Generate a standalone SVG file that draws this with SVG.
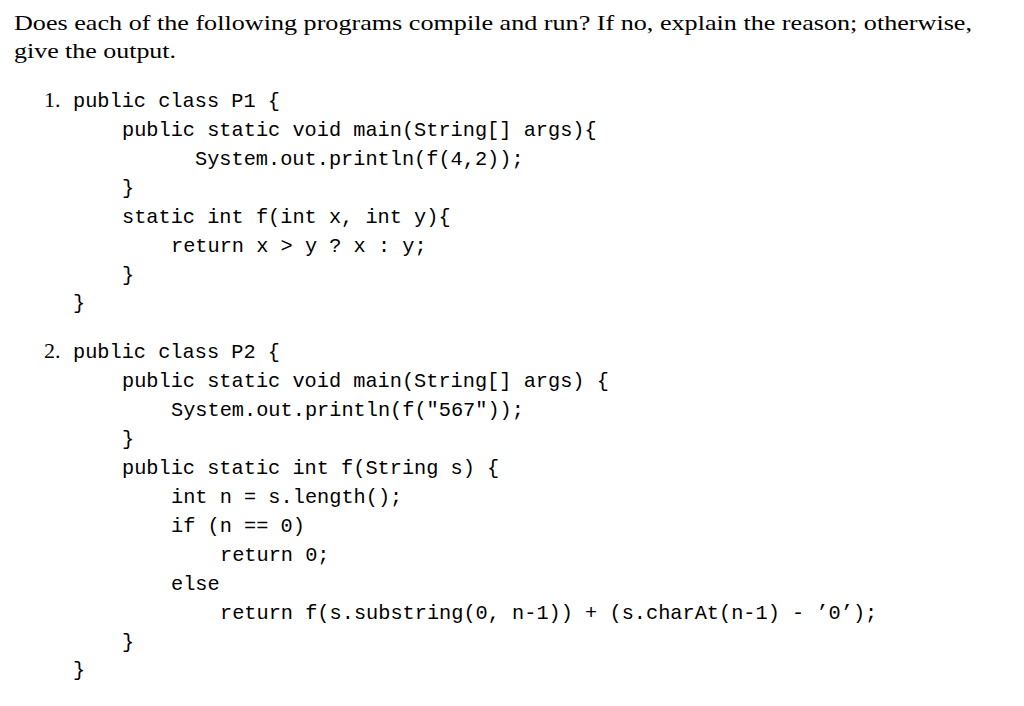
<svg xmlns="http://www.w3.org/2000/svg" width="1024" height="706" viewBox="0 0 1024 706">
<style>
.h{font-family:"Liberation Serif",serif;font-size:22px;fill:#000}
.c{font-family:"Liberation Mono","DejaVu Sans Mono",monospace;font-size:20.3px;fill:#000;white-space:pre}
</style>
<rect width="1024" height="706" fill="#fff"/>
<g id="heading">
<text class="h" x="14" y="30" textLength="958" lengthAdjust="spacingAndGlyphs">Does each of the following programs compile and run? If no, explain the reason; otherwise,</text>
<text class="h" x="14" y="58" textLength="162" lengthAdjust="spacingAndGlyphs">give the output.</text>
</g>
<g id="p1" xml:space="preserve">
<text class="h" x="44" y="107">1.</text>
<text class="c" x="73" y="107">public class P1 {</text>
<text class="c" x="122" y="136">public static void main(String[] args){</text>
<text class="c" x="195" y="165">System.out.println(f(4,2));</text>
<text class="c" x="122" y="194">}</text>
<text class="c" x="122" y="223">static int f(int x, int y){</text>
<text class="c" x="171" y="252">return x &gt; y ? x : y;</text>
<text class="c" x="122" y="281">}</text>
<text class="c" x="73" y="309">}</text>
</g>
<g id="p2" xml:space="preserve">
<text class="h" x="44" y="358">2.</text>
<text class="c" x="73" y="358">public class P2 {</text>
<text class="c" x="122" y="387">public static void main(String[] args) {</text>
<text class="c" x="171" y="416">System.out.println(f("567"));</text>
<text class="c" x="122" y="445">}</text>
<text class="c" x="122" y="474">public static int f(String s) {</text>
<text class="c" x="171" y="503">int n = s.length();</text>
<text class="c" x="171" y="532">if (n == 0)</text>
<text class="c" x="220" y="561">return 0;</text>
<text class="c" x="171" y="590">else</text>
<text class="c" x="220" y="619">return f(s.substring(0, n-1)) + (s.charAt(n-1) - ’0’);</text>
<text class="c" x="122" y="648">}</text>
<text class="c" x="73" y="676">}</text>
</g>
</svg>
